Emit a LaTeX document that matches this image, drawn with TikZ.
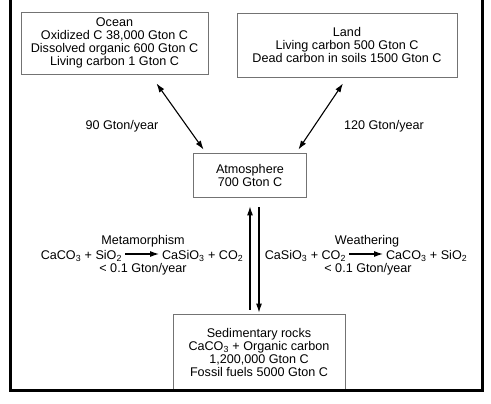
\documentclass[tikz,border=0pt]{standalone}
\usepackage{fontspec}
\setmainfont{Liberation Sans}
\usetikzlibrary{arrows.meta,positioning}

\begin{document}
\begin{tikzpicture}[x=1pt, y=-1pt, >={Latex[length=9pt,width=6pt]}, line width=1.1pt, inner sep=2pt, font=\fontsize{12.6}{13}\selectfont]
      \useasboundingbox (0,0) rectangle (491,404);

      \tikzstyle{pool}=[draw=black!55, line width=0.8pt, align=center]
      \tikzstyle{chem}=[inner xsep=1pt, inner ysep=0pt]

      \node[pool, minimum width=187pt, minimum height=62pt] (ocean) at (114.5,43) {Ocean\\Oxidized C 38,000 Gton C\\Dissolved organic 600 Gton C\\Living carbon 1 Gton C};
      \node[pool, minimum width=220pt, minimum height=64pt] (land) at (347,45) {Land\\Living carbon 500 Gton C\\Dead carbon in soils 1500 Gton C};
      \node[pool, minimum width=113pt, minimum height=44pt] (atm) at (250,175) {Atmosphere\\700 Gton C};
      \node[pool, minimum width=172pt, minimum height=76pt] (sed) at (259,352) {Sedimentary rocks\\CaCO\textsubscript{3} + Organic carbon\\1,200,000 Gton C\\Fossil fuels 5000 Gton C};

      % exchange fluxes
      \path[<->]
      ([shift={(42,9)}]ocean.south) edge ([shift={(10.5,-3)}]atm.north west)
      ([shift={(-4,6)}]land.south) edge ([shift={(-8.5,-3)}]atm.north east);
      \node (fluxocean) at (122,126) {90 Gton/year};
      \node (fluxland) at (384,126) {120 Gton/year};

      \draw[->] ([shift={(-9,-4)}]sed.north) -- ([shift={(0,9)}]atm.south);
      \draw[->] ([shift={(9,10)}]atm.south) -- ([shift={(0,-1)}]sed.north);

      % metamorphism
      \node (meta) at (143,241) {Metamorphism};
      \node[chem, anchor=east] (metaL) at (123.5,255.5) {CaCO\textsubscript{3} + SiO\textsubscript{2}};
      \node[chem, right=37pt of metaL] (metaR) {CaSiO\textsubscript{3} + CO\textsubscript{2}};
      \node (metarate) at (143,269.5) {< 0.1 Gton/year};
      \draw[->, shorten <=1.5pt, shorten >=1.5pt] ([yshift=1.5pt]metaL.east) -- ([yshift=1.5pt]metaR.west);

      % weathering
      \node (weath) at (367,241) {Weathering};
      \node[chem, anchor=east] (weathL) at (347.5,255.5) {CaSiO\textsubscript{3} + CO\textsubscript{2}};
      \node[chem, right=37pt of weathL] (weathR) {CaCO\textsubscript{3} + SiO\textsubscript{2}};
      \node (weathrate) at (368,269.5) {< 0.1 Gton/year};
      \draw[->, shorten <=1.5pt, shorten >=1.5pt] ([yshift=1.5pt]weathL.east) -- ([yshift=1.5pt]weathR.west);

      \draw[line width=3.5pt] (10.5,-5) -- (10.5,390.5) -- (482.5,390.5) -- (482.5,-5);
    \end{tikzpicture}
\end{document}
